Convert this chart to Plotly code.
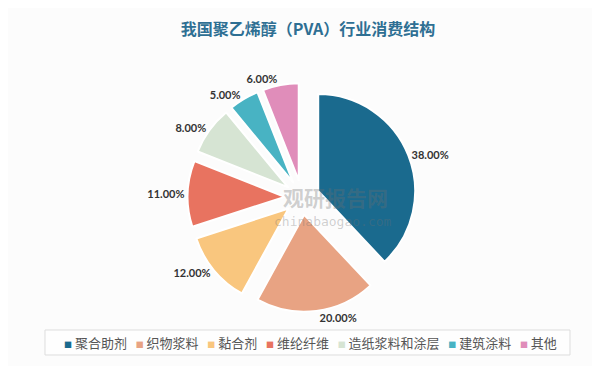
import plotly.graph_objects as go

categories = ["聚合助剂", "织物浆料", "黏合剂", "维纶纤维", "造纸浆料和涂层", "建筑涂料", "其他"]
values = [38, 20, 12, 11, 8, 5, 6]
colors = ["#1A6A8E", "#E8A383", "#F9C67E", "#E87360", "#D6E4D3", "#48B3C3", "#E08DBA"]

fig = go.Figure(go.Pie(
    labels=categories,
    values=values,
    sort=False,
    direction="clockwise",
    rotation=0,
    pull=[0.18] * len(values),
    marker=dict(colors=colors, line=dict(color="white", width=2)),
    texttemplate="<b>%{percent:.2%}</b>",
    textposition="outside",
    textfont=dict(size=11, color="#333333", family="Lato, Noto Sans CJK SC"),
    domain=dict(x=[0.24, 0.74], y=[0.17, 0.795]),
    hoverinfo="label+percent",
    showlegend=False,
))

# custom one-row legend built from the category / colour lists
legend_text = "&nbsp;&nbsp;&nbsp;".join(
    f"<span style='color:{c};font-size:8px'>■</span>&nbsp;{lab}" for lab, c in zip(categories, colors)
)
fig.add_annotation(text=legend_text, x=302 / 600, y=1 - 334 / 366, xref="paper", yref="paper",
                   xanchor="center", yanchor="middle", showarrow=False,
                   font=dict(size=13, color="#555555", family="Noto Sans CJK SC"))
fig.add_shape(type="rect", xref="paper", yref="paper", x0=37 / 600, x1=562 / 600,
              y0=1 - 347 / 366, y1=1 - 322 / 366,
              line=dict(color="#DDDDDD", width=1), fillcolor="rgba(255,255,255,0.6)", layer="below")

# watermark
fig.add_annotation(text="<b>观研报告网</b>", x=327 / 600, y=1 - 189 / 366, xref="paper", yref="paper",
                   showarrow=False, font=dict(size=21, color="rgba(110,110,110,0.33)", family="Noto Sans CJK SC"))
fig.add_annotation(text="chinabaogao.com", x=325 / 600, y=1 - 213 / 366, xref="paper", yref="paper",
                   showarrow=False, font=dict(size=13, color="rgba(110,110,110,0.33)", family="DejaVu Sans Mono"))

fig.update_layout(
    width=600, height=366,
    paper_bgcolor="#FCFCFC",
    plot_bgcolor="#FCFCFC",
    margin=dict(l=0, r=0, t=0, b=0),
    title=dict(text="<b>我国聚乙烯醇（PVA）行业消费结构</b>", x=0.5, xanchor="center", y=1 - 21 / 366, yanchor="middle",
               font=dict(size=16, color="#2E6F93", family="Noto Sans CJK SC")),
    showlegend=False,
)

fig.write_html("out.html")
